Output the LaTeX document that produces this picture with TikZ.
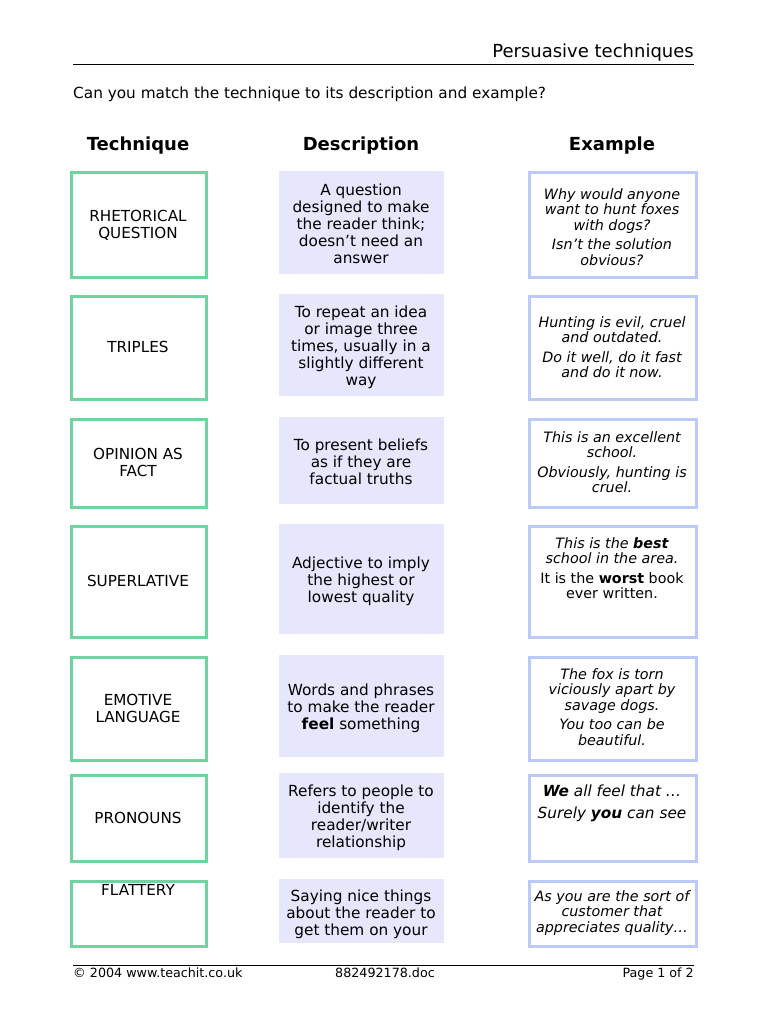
\documentclass[tikz,border=0pt]{standalone}
\usepackage{fontspec}
\setmainfont{DejaVu Sans}
\definecolor{tg}{RGB}{110,212,160}
\definecolor{eb}{RGB}{188,202,250}
\definecolor{df}{RGB}{230,230,252}
\begin{document}
\begin{tikzpicture}[x=1pt,y=-1pt,
  tech/.style={draw=tg,line width=3pt,fill=white},
  ex/.style={draw=eb,line width=3pt,fill=white},
  desc/.style={fill=df},
  txt/.style={align=center,font=\fontsize{15.3}{17}\selectfont,inner sep=0},
  ttx/.style={align=center,font=\fontsize{15.2}{17}\selectfont,inner sep=0},
  itx/.style={align=center,font=\fontsize{14.3}{15.5}\selectfont\itshape,inner sep=0},
  hd/.style={font=\fontsize{18}{20}\selectfont\bfseries,inner sep=0}]
\useasboundingbox (0,0) rectangle (768,1024);
\node[anchor=base east,font=\fontsize{18}{20}\selectfont,inner sep=0] (title) at (694,58) {Persuasive techniques};
\draw[line width=0.6pt] (73,64) -- (694,64);
\node[anchor=base west,font=\fontsize{15.3}{17}\selectfont,inner sep=0] (q) at (73,99) {Can you match the technique to its description and example?};
\node[hd,anchor=base] (h1) at (138,151) {Technique};
\node[hd,anchor=base] (h2) at (361,151) {Description};
\node[hd,anchor=base] (h3) at (612,151) {Example};
\foreach \n/\t/\b in {1/173/277,2/296/399,3/419/507,4/526/637,5/657/760,6/775/861,7/881/946}{
  \draw[tech] (71,\t) rectangle (206,\b);
  \fill[desc] (279,\t-2) rectangle (444,\b-3);
  \draw[ex] (529,\t) rectangle (696,\b);
}
\node[ttx] (t1) at (138,225) {RHETORICAL\\QUESTION};
\node[ttx] (t2) at (138,347) {TRIPLES};
\node[ttx] (t3) at (138,462) {OPINION AS\\FACT};
\node[ttx] (t4) at (138,581) {SUPERLATIVE};
\node[ttx] (t5) at (138,708) {EMOTIVE\\LANGUAGE};
\node[ttx] (t6) at (138,818) {PRONOUNS};
\node[ttx,anchor=north] (t7) at (138,884) {FLATTERY};
\node[txt] (d1) at (361,224) {A question\\designed to make\\the reader think;\\doesn’t need an\\answer};
\node[txt] (d2) at (361,347) {To repeat an idea\\or image three\\times, usually in a\\slightly different\\way};
\node[txt] (d3) at (361,462) {To present beliefs\\as if they are\\factual truths};
\node[txt] (d4) at (361,581) {Adjective to imply\\the highest or\\lowest quality};
\node[txt] (d5) at (361,708) {Words and phrases\\to make the reader\\\textbf{feel} something};
\node[txt] (d6) at (361,818) {Refers to people to\\identify the\\reader/writer\\relationship};
\node[txt,anchor=north] (d7) at (361,890) {Saying nice things\\about the reader to\\get them on your};
\node[itx] (e1) at (612,227) {Why would anyone\\want to hunt foxes\\with dogs?\\[4pt]Isn’t the solution\\obvious?};
\node[itx] (e2) at (612,347) {Hunting is evil, cruel\\and outdated.\\[4pt]Do it well, do it fast\\and do it now.};
\node[itx] (e3) at (612,462) {This is an excellent\\school.\\[4pt]Obviously, hunting is\\cruel.};
\node[itx] (e4) at (612,568) {This is the \textbf{best}\\school in the area.\\[4pt]\upshape It is the \textbf{worst} book\\\upshape ever written.};
\node[itx] (e5) at (612,707) {The fox is torn\\viciously apart by\\savage dogs.\\[4pt]You too can be\\beautiful.};
\node[itx,font=\fontsize{15.3}{17}\selectfont\itshape] (e6) at (612,803) {\textbf{We} all feel that …\\[5pt]Surely \textbf{you} can see};
\node[itx] (e7) at (612,913) {As you are the sort of\\customer that\\appreciates quality…};
\draw[line width=0.6pt] (73,965) -- (694,965);
\node[anchor=base west,font=\fontsize{12.7}{14}\selectfont,inner sep=0] (f1) at (73,977) {© 2004 www.teachit.co.uk};
\node[anchor=base,font=\fontsize{12.7}{14}\selectfont,inner sep=0] (f2) at (385,977) {882492178.doc};
\node[anchor=base east,font=\fontsize{12.7}{14}\selectfont,inner sep=0] (f3) at (694,977) {Page 1 of 2};
\end{tikzpicture}
\end{document}
